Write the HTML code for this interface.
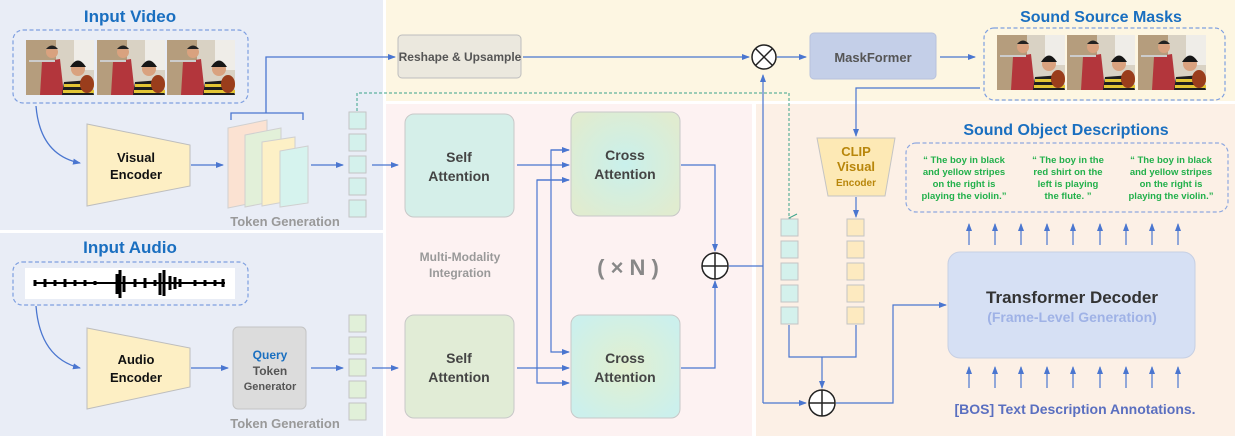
<!DOCTYPE html>
<html><head><meta charset="utf-8"><style>
html,body{margin:0;padding:0;background:#fff;}
svg{display:block;font-family:"Liberation Sans",sans-serif;}
</style></head><body>
<svg width="1235" height="436" viewBox="0 0 1235 436" xmlns="http://www.w3.org/2000/svg">
<defs>
<marker id="a" markerWidth="8" markerHeight="8" refX="7" refY="4" orient="auto" markerUnits="userSpaceOnUse"><path d="M0,1 L8,4 L0,7 Z" fill="#4a76d0"/></marker>
<marker id="ag" markerWidth="10" markerHeight="10" refX="5" refY="9" orient="auto" markerUnits="userSpaceOnUse"><path d="M1,1 L5,9 L9,1" fill="none" stroke="#3aa38a" stroke-width="1"/></marker>
<radialGradient id="cx1" cx="50%" cy="50%" r="60%"><stop offset="0" stop-color="#c9f0ec"/><stop offset="1" stop-color="#e0ecd0"/></radialGradient>
<radialGradient id="cx2" cx="50%" cy="50%" r="60%"><stop offset="0" stop-color="#e2efcf"/><stop offset="1" stop-color="#ccf0ec"/></radialGradient>
<g id="fr">
<rect width="68" height="55" fill="#d9d2c4"/>
<rect width="30" height="55" fill="#b59d7d"/>
<rect x="48" y="0" width="20" height="30" fill="#efede8"/>
<path d="M16,22 L34,19 L38,55 L14,55 Z" fill="#b3363c"/>
<circle cx="26" cy="12" r="6" fill="#d9a27f"/>
<path d="M20,9 Q26,2 32,9 Z" fill="#222"/>
<rect x="3" y="20" width="26" height="2" fill="#ccc"/>
<circle cx="52" cy="29" r="7" fill="#d9a27f"/>
<path d="M44,27 Q52,14 60,27 Z" fill="#161616"/>
<path d="M38,42 L64,40 L68,55 L36,55 Z" fill="#1e1e1e"/>
<rect x="38" y="44" width="30" height="3" fill="#e3c534"/>
<rect x="37" y="50" width="31" height="3" fill="#e3c534"/>
<ellipse cx="61" cy="44" rx="7" ry="9" fill="#9a3d1c"/>
</g>
</defs>

<rect x="0" y="0" width="383" height="230" fill="#e9edf6"/>
<rect x="0" y="233" width="383" height="203" fill="#e9edf6"/>
<rect x="386" y="0" width="849" height="101" fill="#fdf6e2"/>
<rect x="386" y="104" width="366" height="332" fill="#fdf2f2"/>
<rect x="756" y="104" width="479" height="332" fill="#fcf0e6"/>

<text x="130" y="22" text-anchor="middle" font-size="17" font-weight="bold" fill="#1a6fc0">Input Video</text>
<rect x="13" y="30" width="235" height="73" rx="10" fill="none" stroke="#7e9fe0" stroke-width="1.2" stroke-dasharray="4,2.5"/>
<use href="#fr" x="26" y="40"/><use href="#fr" x="97" y="40"/><use href="#fr" x="167" y="40"/>
<path d="M36,106 Q40,155 80,163" fill="none" stroke="#4a76d0" stroke-width="1.3" marker-end="url(#a)"/>
<polygon points="87,124 190,145 190,186 87,206" fill="#fdefc4" stroke="#bdbdbd"/>
<text x="136" y="162" text-anchor="middle" font-size="13" font-weight="bold" fill="#111">Visual</text>
<text x="136" y="179" text-anchor="middle" font-size="13" font-weight="bold" fill="#111">Encoder</text>
<line x1="191" y1="165" x2="223" y2="165" stroke="#4a76d0" stroke-width="1.3" marker-end="url(#a)"/>
<polygon points="228,128 267,120 267,200 228,208" fill="#fbe2d2" stroke="#d0d0d0"/>
<polygon points="245,135 281,128 281,200 245,207" fill="#e2f0d9" stroke="#d0d0d0"/>
<polygon points="262,142 295,137 295,200 262,206" fill="#fdf0c6" stroke="#d0d0d0"/>
<polygon points="280,151 308,146 308,203 280,207" fill="#d6f3ee" stroke="#d0d0d0"/>
<path d="M231,120 L231,113 L303,113 L303,120 M266,113 L266,57 L395,57" fill="none" stroke="#4a76d0" stroke-width="1.3" marker-end="url(#a)"/>
<line x1="311" y1="165" x2="343" y2="165" stroke="#4a76d0" stroke-width="1.3" marker-end="url(#a)"/>
<g fill="#d4f1ec" stroke="#c4c4c4">
<rect x="349" y="112" width="17" height="17"/><rect x="349" y="134" width="17" height="17"/><rect x="349" y="156" width="17" height="17"/><rect x="349" y="178" width="17" height="17"/><rect x="349" y="200" width="17" height="17"/></g>
<text x="285" y="226" text-anchor="middle" font-size="13" font-weight="bold" fill="#999">Token Generation</text>
<line x1="372" y1="165" x2="398" y2="165" stroke="#4a76d0" stroke-width="1.3" marker-end="url(#a)"/>
<path d="M357,111 L357,93 L789,93 L789,218" fill="none" stroke="#3aa38a" stroke-width="1" stroke-dasharray="3,2" marker-end="url(#ag)"/>

<text x="130" y="253" text-anchor="middle" font-size="17" font-weight="bold" fill="#1a6fc0">Input Audio</text>
<rect x="13" y="262" width="235" height="43" rx="9" fill="none" stroke="#7e9fe0" stroke-width="1.2" stroke-dasharray="4,2.5"/>
<rect x="25" y="268" width="210" height="31" fill="#fff"/>
<path d="M34,283 L225,283" stroke="#000" stroke-width="2"/>
<path d="M35,280 L35,286 M45,279 L45,287 M55,280 L55,286 M65,279 L65,287 M75,280 L75,286 M85,280 L85,286 M95,281 L95,285 M117,274 L117,294 M120,270 L120,298 M124,276 L124,292 M135,279 L135,287 M145,278 L145,288 M155,280 L155,286 M160,273 L160,295 M164,270 L164,296 M170,276 L170,290 M175,277 L175,289 M180,279 L180,287 M195,280 L195,286 M205,280 L205,286 M215,280 L215,286 M223,279 L223,287" stroke="#000" stroke-width="3"/>
<path d="M36,306 Q40,358 80,368" fill="none" stroke="#4a76d0" stroke-width="1.3" marker-end="url(#a)"/>
<polygon points="87,328 190,348 190,387 87,409" fill="#fdefc4" stroke="#bdbdbd"/>
<text x="136" y="364" text-anchor="middle" font-size="13" font-weight="bold" fill="#111">Audio</text>
<text x="136" y="382" text-anchor="middle" font-size="13" font-weight="bold" fill="#111">Encoder</text>
<line x1="191" y1="368" x2="228" y2="368" stroke="#4a76d0" stroke-width="1.3" marker-end="url(#a)"/>
<rect x="233" y="327" width="73" height="82" rx="5" fill="#dcdcdc" stroke="#c4c4c4"/>
<text x="270" y="359" text-anchor="middle" font-size="12" font-weight="bold" fill="#1a6fc0">Query</text>
<text x="270" y="375" text-anchor="middle" font-size="12" font-weight="bold" fill="#555">Token</text>
<text x="270" y="390" text-anchor="middle" font-size="11" font-weight="bold" fill="#555">Generator</text>
<line x1="311" y1="368" x2="343" y2="368" stroke="#4a76d0" stroke-width="1.3" marker-end="url(#a)"/>
<g fill="#e1f0d9" stroke="#c4c4c4">
<rect x="349" y="315" width="17" height="17"/><rect x="349" y="337" width="17" height="17"/><rect x="349" y="359" width="17" height="17"/><rect x="349" y="381" width="17" height="17"/><rect x="349" y="403" width="17" height="17"/></g>
<text x="285" y="428" text-anchor="middle" font-size="13" font-weight="bold" fill="#999">Token Generation</text>
<line x1="372" y1="368" x2="398" y2="368" stroke="#4a76d0" stroke-width="1.3" marker-end="url(#a)"/>

<rect x="405" y="114" width="109" height="103" rx="9" fill="#d5efe9" stroke="#c8c8c8"/>
<text x="459" y="162" text-anchor="middle" font-size="14" font-weight="bold" fill="#444">Self</text>
<text x="459" y="181" text-anchor="middle" font-size="14" font-weight="bold" fill="#444">Attention</text>
<rect x="405" y="315" width="109" height="103" rx="9" fill="#e1ecd6" stroke="#c8c8c8"/>
<text x="459" y="363" text-anchor="middle" font-size="14" font-weight="bold" fill="#444">Self</text>
<text x="459" y="382" text-anchor="middle" font-size="14" font-weight="bold" fill="#444">Attention</text>
<rect x="571" y="112" width="109" height="104" rx="9" fill="url(#cx1)" stroke="#c8c8c8"/>
<text x="625" y="160" text-anchor="middle" font-size="14" font-weight="bold" fill="#444">Cross</text>
<text x="625" y="179" text-anchor="middle" font-size="14" font-weight="bold" fill="#444">Attention</text>
<rect x="571" y="315" width="109" height="103" rx="9" fill="url(#cx2)" stroke="#c8c8c8"/>
<text x="625" y="363" text-anchor="middle" font-size="14" font-weight="bold" fill="#444">Cross</text>
<text x="625" y="382" text-anchor="middle" font-size="14" font-weight="bold" fill="#444">Attention</text>
<g fill="none" stroke="#4a76d0" stroke-width="1.2">
<line x1="517" y1="165" x2="569" y2="165" marker-end="url(#a)"/>
<line x1="517" y1="368" x2="569" y2="368" marker-end="url(#a)"/>
<path d="M569,150 L551,150 L551,352 L569,352" marker-end="url(#a)"/>
<line x1="551" y1="150" x2="569" y2="150" marker-end="url(#a)"/>
<path d="M569,180 L537,180 L537,383 L569,383" marker-end="url(#a)"/>
<line x1="537" y1="180" x2="569" y2="180" marker-end="url(#a)"/>
<path d="M681,165 L715,165 L715,251" marker-end="url(#a)"/>
<path d="M681,368 L715,368 L715,281" marker-end="url(#a)"/>
<path d="M729,266 L763,266"/>
<path d="M763,403 L763,75" marker-end="url(#a)"/>
<path d="M763,403 L806,403" marker-end="url(#a)"/>
</g>
<circle cx="715" cy="266" r="13" fill="#fff" stroke="#222" stroke-width="1.5"/>
<path d="M702,266 L728,266 M715,253 L715,279" stroke="#222" stroke-width="1.5"/>
<text x="460" y="261" text-anchor="middle" font-size="12" font-weight="bold" fill="#999">Multi-Modality</text>
<text x="460" y="277" text-anchor="middle" font-size="12" font-weight="bold" fill="#999">Integration</text>
<text x="628" y="275" text-anchor="middle" font-size="22" font-weight="bold" fill="#888">( × N )</text>

<rect x="398" y="35" width="123" height="43" rx="4" fill="#ebe8de" stroke="#bdbdbd"/>
<text x="460" y="61" text-anchor="middle" font-size="12" font-weight="bold" fill="#555">Reshape &amp; Upsample</text>
<line x1="523" y1="57" x2="749" y2="57" stroke="#4a76d0" stroke-width="1.2" marker-end="url(#a)"/>
<circle cx="764" cy="57" r="12" fill="#fff" stroke="#222" stroke-width="1.5"/>
<path d="M755.5,48.5 L772.5,65.5 M772.5,48.5 L755.5,65.5" stroke="#222" stroke-width="1.5"/>
<line x1="777" y1="57" x2="806" y2="57" stroke="#4a76d0" stroke-width="1.2" marker-end="url(#a)"/>
<rect x="810" y="33" width="126" height="46" rx="4" fill="#c4cfe8" stroke="#b8c2dc"/>
<text x="873" y="62" text-anchor="middle" font-size="13" font-weight="bold" fill="#555">MaskFormer</text>
<line x1="940" y1="57" x2="975" y2="57" stroke="#4a76d0" stroke-width="1.2" marker-end="url(#a)"/>
<text x="1101" y="22" text-anchor="middle" font-size="16" font-weight="bold" fill="#1a6fc0">Sound Source Masks</text>
<rect x="984" y="28" width="241" height="72" rx="10" fill="none" stroke="#7e9fe0" stroke-width="1.2" stroke-dasharray="4,2.5"/>
<use href="#fr" x="997" y="35"/><use href="#fr" x="1067" y="35"/><use href="#fr" x="1138" y="35"/>
<path d="M980,88 L856,88 L856,136" fill="none" stroke="#4a76d0" stroke-width="1.2" marker-end="url(#a)"/>

<polygon points="817,138 895,138 885,196 828,196" fill="#fde9b5" stroke="#c4c4c4"/>
<text x="856" y="156" text-anchor="middle" font-size="13" font-weight="bold" fill="#b8860b">CLIP</text>
<text x="856" y="171" text-anchor="middle" font-size="13" font-weight="bold" fill="#b8860b">Visual</text>
<text x="856" y="186" text-anchor="middle" font-size="10" font-weight="bold" fill="#b8860b">Encoder</text>
<line x1="856" y1="197" x2="856" y2="217" stroke="#4a76d0" stroke-width="1.2" marker-end="url(#a)"/>
<g fill="#d4f1ec" stroke="#c4c4c4">
<rect x="781" y="219" width="17" height="17"/><rect x="781" y="241" width="17" height="17"/><rect x="781" y="263" width="17" height="17"/><rect x="781" y="285" width="17" height="17"/><rect x="781" y="307" width="17" height="17"/></g>
<g fill="#fdeac0" stroke="#c4c4c4">
<rect x="847" y="219" width="17" height="17"/><rect x="847" y="241" width="17" height="17"/><rect x="847" y="263" width="17" height="17"/><rect x="847" y="285" width="17" height="17"/><rect x="847" y="307" width="17" height="17"/></g>
<g fill="none" stroke="#4a76d0" stroke-width="1.2">
<path d="M789,325 L789,357 L856,357 L856,325"/>
<line x1="822" y1="357" x2="822" y2="388" marker-end="url(#a)"/>
<path d="M836,403 L893,403 L893,305 L946,305" marker-end="url(#a)"/>
</g>
<circle cx="822" cy="403" r="13" fill="#fff" stroke="#222" stroke-width="1.5"/>
<path d="M809,403 L835,403 M822,390 L822,416" stroke="#222" stroke-width="1.5"/>

<text x="1066" y="135" text-anchor="middle" font-size="16" font-weight="bold" fill="#1a6fc0">Sound Object Descriptions</text>
<rect x="906" y="143" width="322" height="69" rx="10" fill="none" stroke="#8ea8e0" stroke-width="1.2" stroke-dasharray="4,2.5"/>
<g font-size="9.5" font-weight="bold" fill="#22b04b" text-anchor="middle">
<text x="964" y="163">“ The boy in black</text><text x="964" y="175">and yellow stripes</text><text x="964" y="187">on the right is</text><text x="964" y="199">playing the violin.”</text>
<text x="1068" y="163">“ The boy in the</text><text x="1068" y="175">red shirt on the</text><text x="1068" y="187">left is playing</text><text x="1068" y="199">the flute. ”</text>
<text x="1171" y="163">“ The boy in black</text><text x="1171" y="175">and yellow stripes</text><text x="1171" y="187">on the right is</text><text x="1171" y="199">playing the violin.”</text>
</g>
<g stroke="#4a76d0" stroke-width="1.2" marker-end="url(#a)">
<line x1="969" y1="245" x2="969" y2="224"/><line x1="995" y1="245" x2="995" y2="224"/><line x1="1021" y1="245" x2="1021" y2="224"/><line x1="1047" y1="245" x2="1047" y2="224"/><line x1="1073" y1="245" x2="1073" y2="224"/><line x1="1100" y1="245" x2="1100" y2="224"/><line x1="1126" y1="245" x2="1126" y2="224"/><line x1="1152" y1="245" x2="1152" y2="224"/><line x1="1178" y1="245" x2="1178" y2="224"/>
<line x1="969" y1="388" x2="969" y2="367"/><line x1="995" y1="388" x2="995" y2="367"/><line x1="1021" y1="388" x2="1021" y2="367"/><line x1="1047" y1="388" x2="1047" y2="367"/><line x1="1073" y1="388" x2="1073" y2="367"/><line x1="1100" y1="388" x2="1100" y2="367"/><line x1="1126" y1="388" x2="1126" y2="367"/><line x1="1152" y1="388" x2="1152" y2="367"/><line x1="1178" y1="388" x2="1178" y2="367"/>
</g>
<rect x="948" y="252" width="247" height="106" rx="12" fill="#d6e0f4" stroke="#c6cfe3"/>
<text x="1072" y="303" text-anchor="middle" font-size="17" font-weight="bold" fill="#333">Transformer Decoder</text>
<text x="1072" y="322" text-anchor="middle" font-size="14" font-weight="bold" fill="#9fb2e6">(Frame-Level Generation)</text>
<text x="1075" y="414" text-anchor="middle" font-size="14" font-weight="bold" fill="#5a6fc0">[BOS] Text Description Annotations.</text>
</svg>
</body></html>
